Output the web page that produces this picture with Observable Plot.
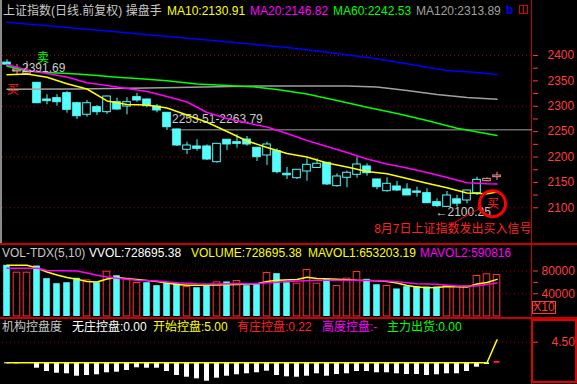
<!DOCTYPE html>
<html><head><meta charset="utf-8">
<script src="https://cdn.jsdelivr.net/npm/d3@7"></script>
<script src="https://cdn.jsdelivr.net/npm/@observablehq/plot@0.6"></script>
<style>
html,body{margin:0;padding:0;background:#000;}
#wrap{position:relative;width:577px;height:384px;overflow:hidden;background:#000;font-family:"Liberation Sans","Noto Sans CJK SC",sans-serif;font-size:12px;}
#wrap svg{position:absolute;left:0;background:transparent !important;}
.t{position:absolute;white-space:nowrap;line-height:14px;font-size:12px;}
.ln{position:absolute;}
</style></head><body>
<div id="wrap">
  <div class="ln" style="left:0;top:0;width:2px;height:243px;background:#8a8a8a"></div>
  <div class="ln" style="left:531px;top:0;width:1px;height:384px;background:#c80000"></div>
  <div class="ln" style="left:0;top:243px;width:577px;height:2px;background:#c80000"></div>
  <div class="ln" style="left:0;top:317px;width:577px;height:2px;background:#c80000"></div>
  <div class="ln" style="left:531px;top:319px;width:46px;height:64px;border:2px solid #e00000;box-sizing:border-box"></div>
  <div class="ln" style="left:532px;top:301px;width:24px;height:13px;border:1px solid #ff3c3c;box-sizing:border-box;color:#ff3c3c;font-size:12px;line-height:11px;text-align:center">X10</div>
  <div class="ln" style="left:519px;top:5px;width:9px;height:9px;border:1px solid #e00000;box-sizing:border-box"></div>
  <div class="ln" style="left:523px;top:5px;width:1px;height:9px;background:#e00000"></div>

  <span class="t" style="left:3px;top:4px;color:#c8c8c8">上证指数(日线.前复权) 操盘手</span>
  <span class="t" style="left:167px;top:4px;color:#ffff00">MA10:2130.91</span>
  <span class="t" style="left:250px;top:4px;color:#ff00ff">MA20:2146.82</span>
  <span class="t" style="left:333px;top:4px;color:#00ff00">MA60:2242.53</span>
  <span class="t" style="left:416px;top:4px;color:#a0a0a0">MA120:2313.89</span>
  <span class="t" style="left:506px;top:3px;color:#0000ff;font-weight:bold">b</span>

  <span class="t" style="left:2px;top:246px;color:#c8c8c8">VOL-TDX(5,10)</span>
  <span class="t" style="left:89px;top:246px;color:#ffffff">VVOL:728695.38</span>
  <span class="t" style="left:191px;top:246px;color:#ffff00">VOLUME:728695.38</span>
  <span class="t" style="left:308px;top:246px;color:#ffff00">MAVOL1:653203.19</span>
  <span class="t" style="left:420px;top:246px;color:#ff00ff">MAVOL2:590816</span>

  <span class="t" style="left:2px;top:320px;color:#c8c8c8">机构控盘度</span>
  <span class="t" style="left:72px;top:320px;color:#ffffff">无庄控盘:0.00</span>
  <span class="t" style="left:153px;top:320px;color:#ffff00">开始控盘:5.00</span>
  <span class="t" style="left:237px;top:320px;color:#ff2020">有庄控盘:0.22</span>
  <span class="t" style="left:322px;top:320px;color:#ff00ff">高度控盘:-</span>
  <span class="t" style="left:387px;top:320px;color:#00ff00">主力出货:0.00</span>
</div>
<script>
// ---- candle data (index 0..49) ----
const open  = [2386,2368.5,2364,2346.2,2313.3,2315.9,2325.7,2306,2283.2,2298.2,
               2288.3,2308,2299.5,2317.9,2313.3,2299.5,2287.1,2254.3,2214.3,2220.8,
               2220.8,2189.8,2234,2229.2,2234.5,2218.2,2203,2211.5,2167,2158.3,
               2171.5,2178.5,2188.7,2142.6,2159.1,2165,2181.4,2155.8,2132.7,2142,
               2136.1,2132.1,2128.8,2111.1,2101.8,2116.7,2114.4,2128.8,2152.4,2160.3];
const high  = [2391.69,2382.3,2388.2,2347,2322.6,2322.6,2329.1,2308,2311.4,2301.5,
               2319.8,2315.9,2316.7,2325.7,2313.8,2303.5,2287.6,2254.8,2229.2,2234,
               2224,2226.5,2234.5,2243.8,2240.4,2218.7,2229.2,2216.2,2179.5,2175.4,
               2196.5,2196.5,2189.2,2167,2172.3,2199.7,2186.7,2156.3,2159,2151.8,
               2147.3,2140.6,2137.4,2117.7,2132.1,2124.6,2134.6,2160.3,2159,2170];
const low   = [2378,2362.6,2364,2305,2302.9,2300.1,2286.4,2274,2278.5,2281.8,
               2283.8,2291.7,2283.2,2308,2297,2287.1,2252.3,2220.8,2205,2211.5,
               2193.2,2187.9,2212.9,2217.4,2221.4,2191.2,2183.4,2167,2155.8,2155.8,
               2152.4,2178,2144,2140.6,2139.4,2158.3,2162.3,2135.5,2130.8,2132.1,
               2124.3,2120.9,2107.9,2100.25,2101,2101.5,2107.9,2124.3,2151,2153.8];
const close = [2382,2372.4,2367.1,2306,2310,2308,2293,2280.4,2306,2288.3,
               2319.2,2293.6,2308,2311.4,2300.1,2291.7,2258.8,2222.7,2222.7,2216.2,
               2195.1,2226,2224.7,2226,2224.7,2199.7,2224.7,2170.1,2164,2174.9,
               2184.7,2186.7,2146,2161.7,2169,2185.3,2168.2,2140.6,2147.3,2134.1,
               2124.3,2129.6,2109.1,2103.2,2124.3,2108.1,2134.1,2155,2157,2163.6];
const pinkCandles = [1,2,48,49];

// moving averages: [index, value]
const ma10 = [[0,2362],[2,2363.6],[4,2357.3],[6,2344.3],[8,2334],[10,2310.4],[12,2303.5],[14,2302.5],[16,2296.6],[18,2282.8],[20,2268.6],[22,2250.3],[24,2231.6],[26,2218.8],[28,2207],[30,2200.1],[32,2188.3],[34,2180.4],[36,2171.5],[38,2167],[40,2157.7],[42,2148.5],[44,2139.4],[46,2129.2],[48,2127.6],[49,2130.91]];
const ma20 = [[0,2382.3],[2,2371.4],[4,2364.5],[6,2357.7],[8,2346.2],[10,2340.9],[12,2335],[14,2329.1],[16,2319.2],[18,2308.4],[20,2287.7],[22,2275.9],[24,2267],[26,2259.2],[28,2246.4],[30,2232.6],[32,2220.8],[34,2209],[36,2196.1],[38,2186.3],[40,2178.4],[42,2169.5],[44,2159.7],[46,2149.3],[48,2147.3],[49,2146.82]];
const ma60 = [[0,2379.3],[2,2369.5],[4,2366.5],[7,2363.6],[9,2360.6],[11,2357.3],[13,2354.7],[16,2350.4],[19,2343.9],[22,2340.9],[25,2337.6],[27,2333],[30,2324.2],[33,2311.4],[36,2298.2],[39,2285.8],[42,2272],[45,2256.8],[49,2242.53]];
const ma120 = [[0,2333.4],[7,2334],[14,2336],[17,2337],[25,2340],[34,2340],[37,2338],[40,2331],[43,2323.2],[46,2317.3],[49,2313.89]];
const ma250 = [[0,2465.6],[10,2448.3],[20,2430.5],[28,2415.8],[31,2409],[33,2404],[36,2396],[38,2390.2],[40,2383.7],[42,2377],[44,2370.5],[47,2366.5],[49,2362.6]];

// volume
const volume = [900000,770000,770000,888000,665000,577000,594000,672000,636000,594000,
                788000,717000,665000,589000,594000,542000,589000,577000,519000,506000,
                542000,601000,607000,624000,542000,566000,765000,753000,594000,577000,
                818000,577000,659000,536000,665000,782000,654000,559000,536000,484000,
                524000,524000,519000,519000,536000,519000,531000,712000,742000,728695.38];
const volUp = [0,1,1,0,0,0,0,0,1,0, 1,0,1,1,0,0,0,0,1,0, 0,1,0,1,0,0,1,0,0,1,
               1,1,0,1,1,1,0,0,1,0, 0,0,0,0,1,1,1,1,1,1];
const mavol1 = [[0,900000],[2,900000],[3,853000],[4,782000],[5,730000],[6,686000],[7,654000],[8,615000],[9,607000],[10,659000],[11,686000],[12,665000],[13,651000],[14,633000],[15,615000],[16,589000],[17,563000],[18,550000],[19,549000],[21,554000],[23,563000],[25,577000],[26,615000],[27,636000],[29,651000],[30,689000],[31,668000],[33,654000],[35,636000],[37,629000],[38,615000],[39,589000],[40,545000],[41,519000],[42,506000],[43,510000],[44,527000],[46,519000],[47,571000],[48,598000],[49,653203.19]];
const mavol2 = [[0,847000],[3,847000],[4,809000],[7,800000],[8,765000],[9,724000],[10,694000],[11,672000],[13,636000],[15,624000],[17,594000],[19,577000],[21,571000],[23,577000],[25,577000],[26,594000],[27,601000],[28,615000],[31,636000],[35,636000],[38,624000],[39,612000],[41,577000],[43,566000],[45,536000],[47,536000],[48,566000],[49,590816]];

// 机构控盘度
const wuzhuang = [-0.22,-0.22,0,-1.18,-1.9,-2.27,-2.4,-2.93,-2.77,-2.62,
                  -2.18,-2.05,-1.68,-1.09,-1.18,-1.18,-1.9,-2.77,-3.15,-3.5,
                  -4.02,-3.36,-2.93,-2.62,-2.4,-2.18,-1.83,-2.77,-3.06,-3.15,
                  -2.93,-2.4,-2.93,-2.56,-2.4,-1.9,-1.9,-2.18,-2.18,-2.4,
                  -2.56,-2.56,-2.77,-2.62,-2.4,-2.4,-1.9,-0.96,-0.37,0];
const kaishi = [0,0,0,0,0,0,0,0,0,0, 0,0,0,0,0,0,0,0,0,0, 0,0,0,0,0,0,0,0,0,0,
                0,0,0,0,0,0,0,0,0,0, 0,0,0,0,0,0,0,0,0,5];
const youzhuang = [0,0,0,0,0,0,0,0,0,0, 0,0,0,0,0,0,0,0,0,0, 0,0,0,0,0,0,0,0,0,0,
                   0,0,0,0,0,0,0,0,0,0, 0,0,0,0,0,0,0,0,0,0.22];

// ticks
const priceTicks = [2100,2125,2150,2175,2200,2225,2250,2275,2300,2325,2350,2375,2400];
const priceGrid = [2100,2200,2300,2400];
const volTicks = [200000,400000,600000,800000];
const volGrid = [400000,800000];
const indTicks = [4.5];

// annotations
const signals = [{i:0, price:2331, text:"买", c:"#ff2020"},{i:3, price:2394, text:"卖", c:"#00ff00"},{i:48, price:2108, text:"买", c:"#ff2020"}];
const highMark = {i:0, price:2391.69};
const lowMark = {i:43, price:2100.25};
const gap = {i:16.4, low:2253.51, high:2263.79};
const buyArrow = {x1:44.55, y1:2069, x2:47.45, y2:2100.6};
const note = "8月7日上证指数发出买入信号";

// ---- drawing ----
const CYAN="#54fcfc", PINK="#ff8c8c", RED="#ff3c3c", GRID="#a00000";
const FONT='"Liberation Sans","Noto Sans CJK SC",sans-serif';
const xDom=[-0.45,52.55];
const common = {width:577, marginLeft:2, marginRight:45, x:{domain:xDom, axis:null}, color:{type:"identity"},
  style:{background:"transparent", color:RED, fontFamily:FONT, fontSize:"12px"}};

const candles = open.map((o,i)=>({i, open:o, high:high[i], low:low[i], close:close[i],
  color: pinkCandles.includes(i) ? PINK : CYAN}));

const wrap = document.getElementById("wrap");

const p1 = Plot.plot({...common, height:244, marginTop:0, marginBottom:0,
  y:{domain:[2027.7,2508.3], axis:null},
  marks:[
    Plot.ruleY(priceGrid, {stroke:GRID, strokeDasharray:"1,3"}),
    Plot.axisY({anchor:"right", ticks:priceTicks, tickFormat:d=>d%50===0?String(d):"", tickSize:5, tickPadding:10, fill:RED, stroke:RED, fontSize:12, label:null}),
    Plot.ruleY([gap], {y:"low", x1:"i", x2:xDom[1], stroke:"#a0a0a0"}),
    Plot.text([gap], {x:"i", y:"high", text:d=>d.low.toFixed(2)+"-"+d.high.toFixed(2), textAnchor:"start", dx:1, dy:-5, fill:"#c8c8c8", fontSize:12}),
    Plot.ruleX(candles, {x:"i", y1:"high", y2:d=>Math.max(d.open,d.close), stroke:"color"}),
    Plot.ruleX(candles, {x:"i", y1:d=>Math.min(d.open,d.close), y2:"low", stroke:"color"}),
    Plot.rect(candles, {x1:d=>d.i-0.38, x2:d=>d.i+0.38, y1:"open", y2:"close", fill:d=>d.close>=d.open?"none":d.color, stroke:"color"}),
    Plot.line(ma250, {stroke:"#0000ff"}),
    Plot.line(ma120, {stroke:"#a0a0a0"}),
    Plot.line(ma60, {stroke:"#00ff00"}),
    Plot.line(ma20, {stroke:"#ff00ff"}),
    Plot.line(ma10, {stroke:"#ffff00"}),
    Plot.text([highMark], {x:"i", y:"price", text:d=>"←"+d.price.toFixed(2), textAnchor:"start", dx:3, dy:8, fill:"#c8c8c8", fontSize:12}),
    Plot.text([lowMark], {x:"i", y:"price", text:d=>"←"+d.price.toFixed(2), textAnchor:"start", dx:-1.5, dy:4, fill:"#c8c8c8", fontSize:12}),
    Plot.text(signals, {x:"i", y:"price", text:"text", fill:"c", dx:6, fontSize:12}),
    Plot.dot([signals[2]], {x:"i", y:"price", r:13, stroke:"#ff0000", strokeWidth:3, fill:"none", dx:5.5}),
    Plot.arrow([buyArrow], {x1:"x1", y1:"y1", x2:"x2", y2:"y2", stroke:"#ff0000", strokeWidth:1, headLength:6}),
    Plot.text([note], {frameAnchor:"bottom-right", text:d=>d, textAnchor:"end", dx:-1, dy:-11.5, fill:"#ff2020", fontSize:12})
  ]});
p1.style.top = "0px";
wrap.appendChild(p1);

const vols = volume.map((v,i)=>({i, v, up: volUp[i]===1}));
const p2 = Plot.plot({...common, height:74, marginTop:0, marginBottom:2,
  y:{domain:[0,1265934], axis:null},
  marks:[
    Plot.ruleY(volGrid, {stroke:GRID, strokeDasharray:"1,3"}),
    Plot.axisY({anchor:"right", ticks:volTicks, tickFormat:d=>volGrid.includes(d)?String(d/10):"", tickSize:5, tickPadding:4, fill:RED, stroke:RED, fontSize:12, label:null}),
    Plot.rect(vols, {x1:d=>d.i-0.33, x2:d=>d.i+0.33, y1:0, y2:"v", fill:d=>d.up?"none":CYAN, stroke:d=>d.up?"#ff3232":"none"}),
    Plot.line(mavol1, {stroke:"#ffff00"}),
    Plot.line(mavol2, {stroke:"#ff00ff"})
  ]});
p2.style.top = "244px";
wrap.appendChild(p2);

const ind = wuzhuang.map((w,i)=>({i, w, k:kaishi[i], y:youzhuang[i]}));
const p3 = Plot.plot({...common, height:65, marginTop:0, marginBottom:0,
  y:{domain:[-4.74,9.46], axis:null},
  marks:[
    Plot.ruleY(indTicks, {stroke:GRID, strokeDasharray:"1,3"}),
    Plot.axisY({anchor:"right", ticks:indTicks, tickFormat:d3.format(".2f"), tickSize:5, tickPadding:14, fill:RED, stroke:RED, fontSize:12, label:null}),
    Plot.rect(ind.filter(d=>d.w!==0), {x1:d=>d.i-0.25, x2:d=>d.i+0.25, y1:0, y2:"w", fill:"#ffffff"}),
    Plot.rect(ind.filter(d=>d.y!==0), {x1:d=>d.i-0.25, x2:d=>d.i+0.25, y1:0, y2:"y", fill:"#ff2020", stroke:"#ff2020"}),
    Plot.line(ind, {x:"i", y:"k", stroke:"#ffff00", strokeWidth:1.5})
  ]});
p3.style.top = "319px";
wrap.appendChild(p3);
</script>
</body></html>
